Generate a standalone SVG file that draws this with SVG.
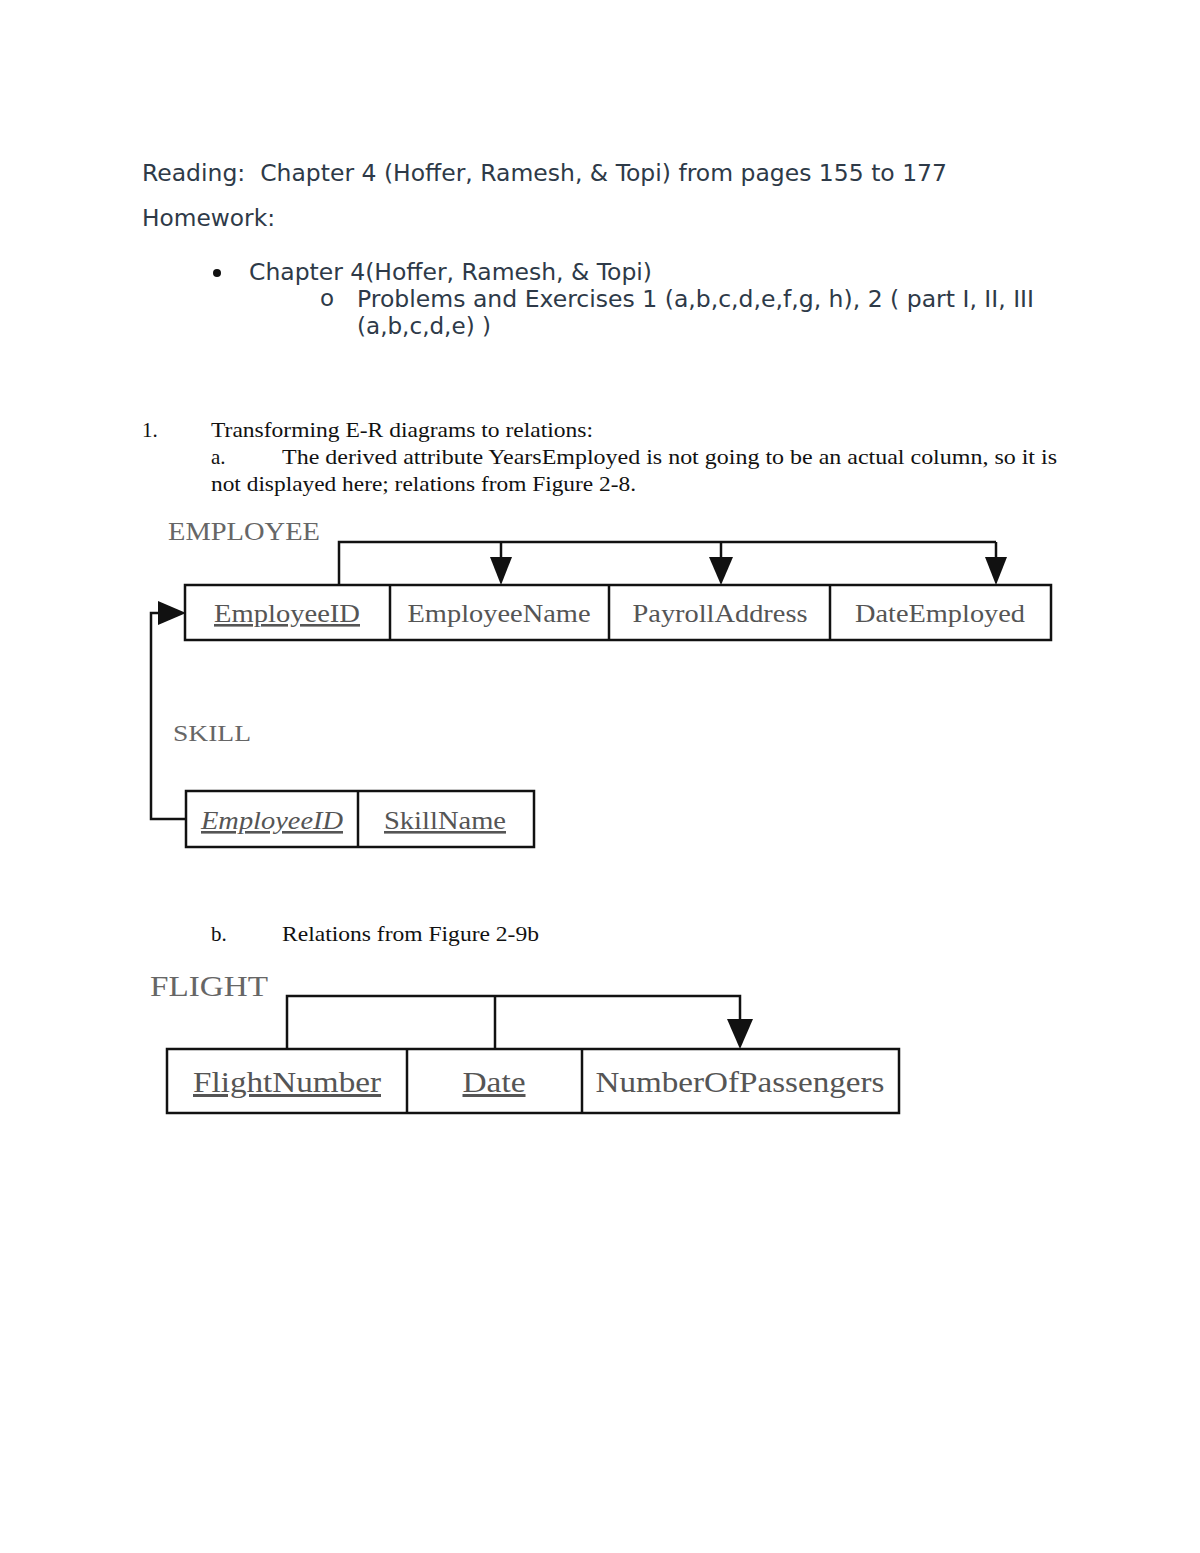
<svg xmlns="http://www.w3.org/2000/svg" width="1200" height="1553" viewBox="0 0 1200 1553">
<style>
.doc{font-family:"DejaVu Sans","Noto Sans",sans-serif;font-size:23px;fill:#2e3a48}
.ser{font-family:"Liberation Serif","Times New Roman",serif;font-size:21px;fill:#111}
.lbl{font-family:"Liberation Serif","Times New Roman",serif;fill:#666}
.fld{font-family:"Liberation Serif","Times New Roman",serif;fill:#555;text-anchor:middle}
.box{fill:#fff;stroke:#111;stroke-width:2.5}
.con{fill:none;stroke:#111;stroke-width:2.5}
.ah{fill:#111}
.ul{text-decoration:underline}
</style>
<rect width="1200" height="1553" fill="#fff"/>

<g id="header">
<text class="doc" x="142" y="181" textLength="805" lengthAdjust="spacingAndGlyphs" xml:space="preserve">Reading:  Chapter 4 (Hoffer, Ramesh, &amp; Topi) from pages 155 to 177</text>
<text class="doc" x="142" y="226" textLength="133" lengthAdjust="spacingAndGlyphs">Homework:</text>
<circle cx="217" cy="273" r="4" fill="#111"/>
<text class="doc" x="249" y="280" textLength="403" lengthAdjust="spacingAndGlyphs">Chapter 4(Hoffer, Ramesh, &amp; Topi)</text>
<text class="doc" x="320" y="306" font-size="18">o</text>
<text class="doc" x="357" y="307" textLength="677" lengthAdjust="spacingAndGlyphs">Problems and Exercises 1 (a,b,c,d,e,f,g, h), 2 ( part I, II, III</text>
<text class="doc" x="357" y="334" textLength="134" lengthAdjust="spacingAndGlyphs">(a,b,c,d,e) )</text>
</g>

<g id="body-text">
<text class="ser" x="142" y="437">1.</text>
<text class="ser" x="211" y="437" textLength="382" lengthAdjust="spacingAndGlyphs">Transforming E-R diagrams to relations:</text>
<text class="ser" x="211" y="464">a.</text>
<text class="ser" x="282" y="464" textLength="775" lengthAdjust="spacingAndGlyphs">The derived attribute YearsEmployed is not going to be an actual column, so it is</text>
<text class="ser" x="211" y="491" textLength="425" lengthAdjust="spacingAndGlyphs">not displayed here; relations from Figure 2-8.</text>
<text class="ser" x="211" y="941">b.</text>
<text class="ser" x="282" y="941" textLength="257" lengthAdjust="spacingAndGlyphs">Relations from Figure 2-9b</text>
</g>

<g id="employee">
<text class="lbl" x="168" y="540" font-size="26" textLength="152" lengthAdjust="spacingAndGlyphs">EMPLOYEE</text>
<rect class="box" x="185" y="585" width="866" height="55"/>
<line class="con" x1="390" y1="585" x2="390" y2="640"/>
<line class="con" x1="609" y1="585" x2="609" y2="640"/>
<line class="con" x1="830" y1="585" x2="830" y2="640"/>
<text class="fld ul" x="287" y="622" font-size="26" textLength="146" lengthAdjust="spacingAndGlyphs">EmployeeID</text>
<text class="fld" x="499" y="622" font-size="26" textLength="183" lengthAdjust="spacingAndGlyphs">EmployeeName</text>
<text class="fld" x="720" y="622" font-size="26" textLength="175" lengthAdjust="spacingAndGlyphs">PayrollAddress</text>
<text class="fld" x="940" y="622" font-size="26" textLength="170" lengthAdjust="spacingAndGlyphs">DateEmployed</text>
</g>

<g id="skill">
<text class="lbl" x="173" y="741" font-size="24" textLength="78" lengthAdjust="spacingAndGlyphs">SKILL</text>
<rect class="box" x="186" y="791" width="348" height="56"/>
<line class="con" x1="358" y1="791" x2="358" y2="847"/>
<text class="fld ul" x="272" y="829" font-size="26" font-style="italic" textLength="142" lengthAdjust="spacingAndGlyphs">EmployeeID</text>
<text class="fld ul" x="445" y="829" font-size="26" textLength="122" lengthAdjust="spacingAndGlyphs">SkillName</text>
</g>

<g id="flight">
<text class="lbl" x="150" y="996" font-size="30" textLength="118" lengthAdjust="spacingAndGlyphs">FLIGHT</text>
<rect class="box" x="167" y="1049" width="732" height="64" stroke-width="3"/>
<line class="con" x1="407" y1="1049" x2="407" y2="1113" stroke-width="3"/>
<line class="con" x1="582" y1="1049" x2="582" y2="1113" stroke-width="3"/>
<text class="fld ul" x="287" y="1092" font-size="30" textLength="188" lengthAdjust="spacingAndGlyphs">FlightNumber</text>
<text class="fld ul" x="494" y="1092" font-size="30" textLength="63" lengthAdjust="spacingAndGlyphs">Date</text>
<text class="fld" x="740" y="1092" font-size="30" textLength="289" lengthAdjust="spacingAndGlyphs">NumberOfPassengers</text>
</g>

<g id="connectors">
<polyline class="con" points="339,585 339,542 996,542"/>
<line class="con" x1="501" y1="542" x2="501" y2="560"/>
<polygon class="ah" points="490,557 512,557 501,585"/>
<line class="con" x1="721" y1="542" x2="721" y2="560"/>
<polygon class="ah" points="709,557 733,557 721,585"/>
<line class="con" x1="996" y1="542" x2="996" y2="560"/>
<polygon class="ah" points="985,557 1007,557 996,585"/>
<polyline class="con" points="186,819 151,819 151,613 160,613"/>
<polygon class="ah" points="158,601 158,625 186,613"/>
<polyline class="con" points="287,1049 287,996 740,996 740,1022"/>
<line class="con" x1="495" y1="996" x2="495" y2="1049" stroke-width="3"/>
<polygon class="ah" points="727,1019 753,1019 740,1049"/>
</g>
</svg>
